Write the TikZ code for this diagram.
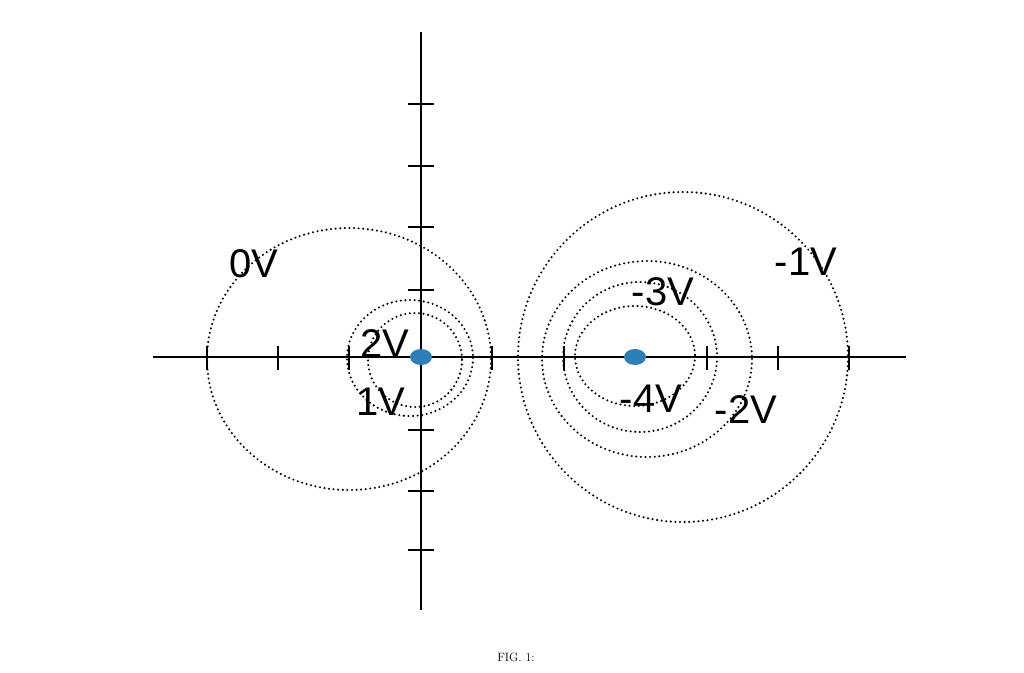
\documentclass[tikz,border=0pt]{standalone}
\usepackage{fontspec}
\usetikzlibrary{shapes.geometric}
\newfontfamily\lab{Liberation Sans}
\definecolor{qblue}{RGB}{44,127,184}
\begin{document}
\begin{tikzpicture}[x=1pt,y=-1pt,
  eq/.style={line width=2.3pt,dash pattern=on 0pt off 4.6pt,line cap=round},
  ax/.style={line width=2pt},
  vl/.style={font=\lab\fontsize{40}{40}\selectfont,inner sep=0pt},
  chg/.style={ellipse,fill=qblue,minimum width=22pt,minimum height=16pt,inner sep=0pt}]
\useasboundingbox (0,0) rectangle (1024,672);
\coordinate (xl) at (153,357); \coordinate (xr) at (906,357);
\coordinate (yt) at (421,32); \coordinate (yb) at (421,610);
\draw[ax] (xl) -- (xr); \draw[ax] (yt) -- (yb);
\foreach \x in {207,278,349,492,564,707,778,849} \draw[ax] (\x,346) -- (\x,370);
\foreach \y in {104,166,227,290,430,491,550} \draw[ax] (408,\y) -- (434,\y);
% left circles
\draw[eq] (349,359) ellipse [x radius=142,y radius=131];
\draw[eq] (410,358) ellipse [x radius=63,y radius=58];
\draw[eq] (415,360) ellipse [x radius=47,y radius=47];
% right circles
\draw[eq] (683,357) ellipse [x radius=165,y radius=165];
\draw[eq] (647,359) ellipse [x radius=105,y radius=98];
\draw[eq] (640,357) ellipse [x radius=77,y radius=75];
\draw[eq] (635,356) ellipse [x radius=60,y radius=50];
\node[chg] (q1) at (421,357) {};
\node[chg] (q2) at (635,357) {};
\node[vl] (l0) at (254,264) {0V};
\node[vl] (l2) at (385,344) {2V};
\node[vl] (l1) at (381,402) {1V};
\node[vl] (l3) at (663,292) {-3V};
\node[vl] (l4) at (651,399) {-4V};
\node[vl] (lm2) at (746,410) {-2V};
\node[vl] (lm1) at (806,262) {-1V};
\node[font=\rmfamily\fontsize{12}{12}\selectfont] (cap) at (516,657) {FIG. 1:};
\end{tikzpicture}
\end{document}
